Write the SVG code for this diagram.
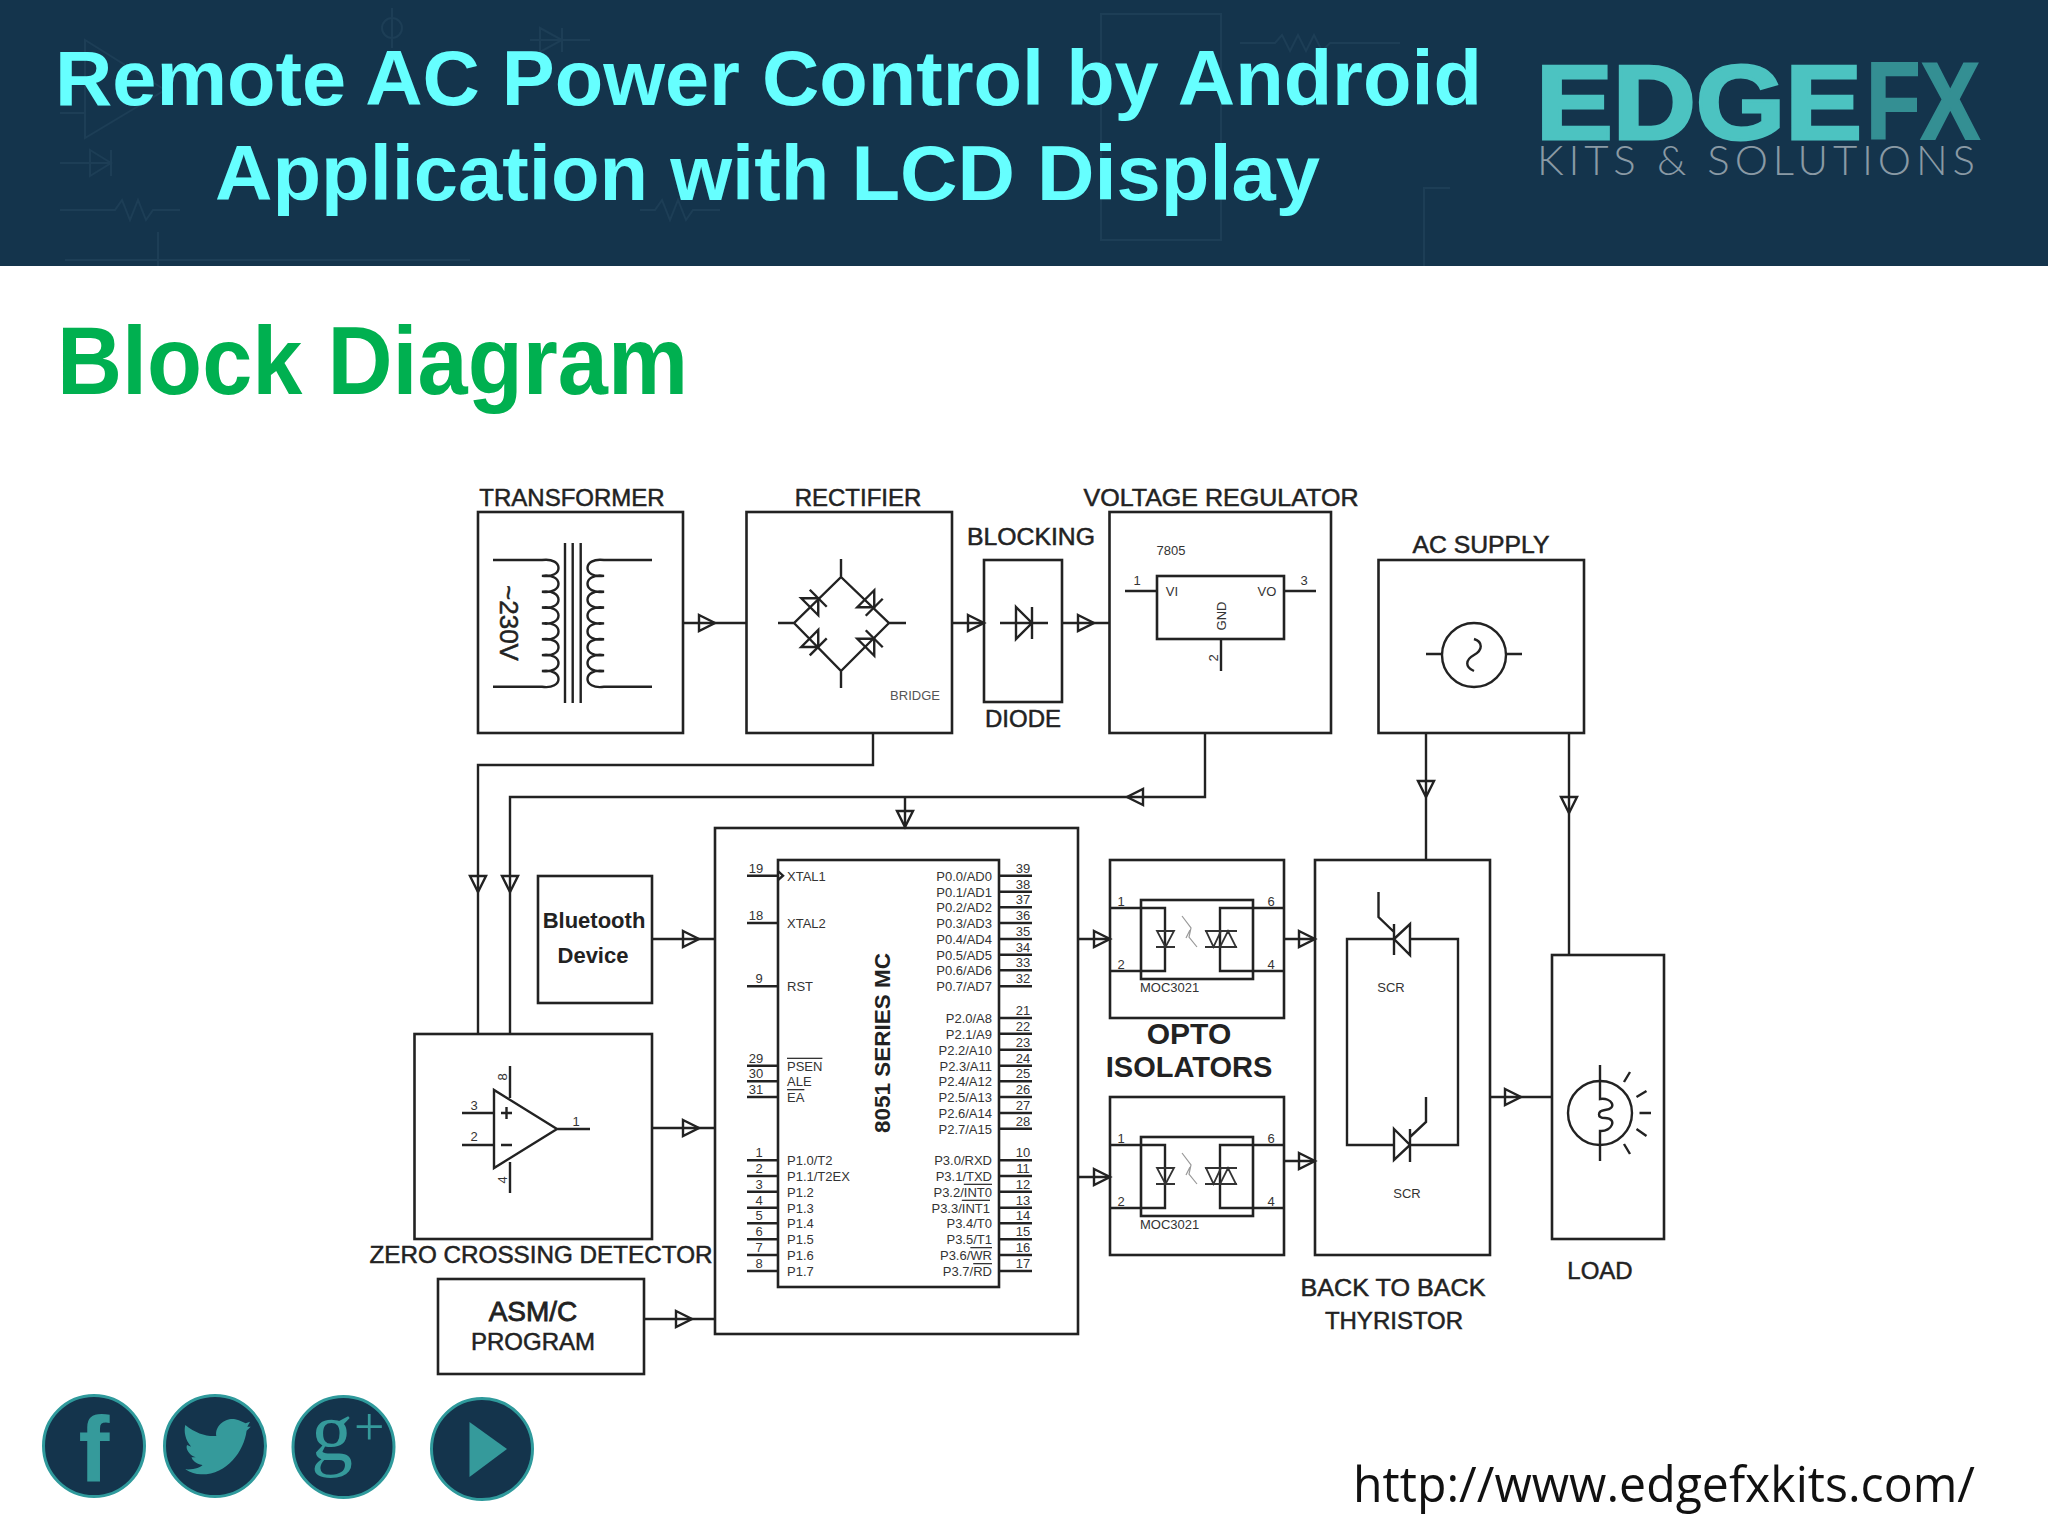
<svg xmlns="http://www.w3.org/2000/svg" width="2048" height="1536" viewBox="0 0 2048 1536">
<style>
text{font-family:"Liberation Sans",Arial,sans-serif;fill:#222}
.box{fill:none;stroke:#222;stroke-width:2.6}
.ln{fill:none;stroke:#222;stroke-width:2.4}
.th{fill:none;stroke:#333;stroke-width:1.8}
.lab{font-size:24px;text-anchor:middle;stroke:#222;stroke-width:.5}
.b{font-weight:bold}
.pin{font-size:13px;fill:#333}
.num{font-size:13px;fill:#333;text-anchor:middle}
.end{text-anchor:end}
.ctr{text-anchor:middle}
.ov{text-decoration:overline}
.bg{fill:none;stroke:#1d3e56;stroke-width:2}
.ttl{font-size:78px;font-weight:bold;fill:#66FFFF;text-anchor:start}
.ico{fill:#14344c;stroke:#2f9a9c;stroke-width:3}
.tl{fill:#359a9b}
</style>
<defs>
<polygon id="ah" points="0,-8 16,0 0,8" fill="none" stroke="#222" stroke-width="2.4"/>
<g id="bd"><polygon points="-6,-12 6,0 -6,12" class="ln"/><path d="M6-12V12" class="ln"/></g>
<g id="moc">
<path class="ln" d="M1110,908H1165V971H1110M1284,908H1220V971H1284"/>
<rect x="1141" y="900" width="112" height="79" class="box"/>
<path class="th" d="M1157,931H1174L1165.500,947ZM1156,947H1175M1205,931H1237M1205,947H1237M1206,931H1221L1213.500,947ZM1220,947H1236L1228,931Z"/>
<path d="M1182,916L1191,928L1189,937L1197,947M1190,930L1186,938" fill="none" stroke="#999" stroke-width="1.2"/>
<text class="num" x="1121" y="906">1</text><text class="num" x="1121" y="969">2</text>
<text class="num" x="1271" y="906">6</text><text class="num" x="1271" y="969">4</text>
<text class="pin" x="1140" y="992">MOC3021</text>
</g>
</defs>

<g id="header">
<rect width="2048" height="266" fill="#14344c"/>
<path class="bg" d="M1101,14H1221V240H1101ZM85,40V138L165,90ZM60,113H85M392,8V48M530,40H590M562,28V52M540,28L562,40L540,52ZM60,163H111M111,150V176M90,150L111,163L90,176ZM60,210H115L122,200L130,220L138,200L146,220L153,210H180M640,210H655L662,200L670,220L678,200L686,220L693,210H720M65,260H470M158,232V266M1424,266V188H1450M1240,43H1275L1282,35L1290,51L1298,35L1306,51L1314,35L1322,51L1330,43H1400"/>
<circle class="bg" cx="392" cy="28" r="10"/>
<text class="ttl" x="55" y="105" textLength="1427" lengthAdjust="spacingAndGlyphs">Remote AC Power Control by Android</text>
<text class="ttl" x="215" y="200" textLength="1105" lengthAdjust="spacingAndGlyphs">Application with LCD Display</text>
</g>
<g id="logo">
<text x="1536" y="139" font-size="106" font-weight="bold" style="fill:#4cc3c1;stroke:#4cc3c1;stroke-width:3" textLength="326" lengthAdjust="spacingAndGlyphs">EDGE</text>
<text x="1866" y="139" font-size="110" font-weight="bold" style="fill:#348f93;stroke:#348f93;stroke-width:2" textLength="114" lengthAdjust="spacingAndGlyphs">FX</text>
<text x="1537" y="175" font-size="42" style="font-family:Lato,sans-serif;font-weight:300;fill:#8a9aa5" textLength="438">KITS &amp; SOLUTIONS</text>
</g>
<text id="heading" x="57" y="394" font-size="96" font-weight="bold" style="fill:#00B050" textLength="631" lengthAdjust="spacingAndGlyphs">Block Diagram</text>

<g id="connectors">
<path class="ln" d="M683,623H746M952,623H984M1062,623H1109M652,939H715M652,1128H715M644,1319H715M1077,939H1110M1077,1177H1110M1284,939H1315M1284,1161H1315M1490,1097H1552"/>
<path class="ln" d="M873,733V765H478V1034M1205,733V797H510V1034M905,797V828M1426,733V860M1569,733V955"/>
<use href="#ah" transform="translate(699,623)"/>
<use href="#ah" transform="translate(968,623)"/>
<use href="#ah" transform="translate(1078,623)"/>
<use href="#ah" transform="translate(683,939)"/>
<use href="#ah" transform="translate(683,1128)"/>
<use href="#ah" transform="translate(676,1319)"/>
<use href="#ah" transform="translate(1094,939)"/>
<use href="#ah" transform="translate(1094,1177)"/>
<use href="#ah" transform="translate(1299,939)"/>
<use href="#ah" transform="translate(1299,1161)"/>
<use href="#ah" transform="translate(1505,1097)"/>
<use href="#ah" transform="translate(1143,797) rotate(180)"/>
<use href="#ah" transform="translate(905,811) rotate(90)"/>
<use href="#ah" transform="translate(478,876) rotate(90)"/>
<use href="#ah" transform="translate(510,876) rotate(90)"/>
<use href="#ah" transform="translate(1426,781) rotate(90)"/>
<use href="#ah" transform="translate(1569,797) rotate(90)"/>
</g>

<g id="transformer">
<rect x="478" y="512" width="205" height="221" class="box"/>
<text class="lab" x="572" y="506">TRANSFORMER</text>
<path class="ln" d="M493,560H542c22,-3 22,19 0,15.850c22,-3 22,19 0,15.850c22,-3 22,19 0,15.850c22,-3 22,19 0,15.850c22,-3 22,19 0,15.850c22,-3 22,19 0,15.850c22,-3 22,19 0,15.850c22,-3 22,19 0,15.850H493"/>
<path class="ln" d="M652,560H604c-22,-3 -22,19 0,15.850c-22,-3 -22,19 0,15.850c-22,-3 -22,19 0,15.850c-22,-3 -22,19 0,15.850c-22,-3 -22,19 0,15.850c-22,-3 -22,19 0,15.850c-22,-3 -22,19 0,15.850c-22,-3 -22,19 0,15.850H652"/>
<path class="ln" d="M565,543V703M572.700,543V703M580.700,543V703"/>
<text transform="translate(500,623) rotate(90)" font-size="26" text-anchor="middle" stroke="#222" stroke-width=".5">~230V</text>
</g>
<g id="rectifier">
<rect x="746.500" y="512" width="205.500" height="221" class="box"/>
<text class="lab" x="858" y="506">RECTIFIER</text>
<path class="ln" d="M778,623H794L841,577V559M841,577L889,623H906M794,623L841,671V688M841,671L889,623"/>
<use href="#bd" transform="translate(814,602.500) rotate(-45)"/>
<use href="#bd" transform="translate(870,603) rotate(45)"/>
<use href="#bd" transform="translate(814,642.700) rotate(45)"/>
<use href="#bd" transform="translate(870,643) rotate(-45)"/>
<text class="pin ctr" x="915" y="700" style="fill:#555">BRIDGE</text>
</g>
<g id="blocking-diode">
<rect x="984" y="560" width="78" height="142" class="box"/>
<text class="lab" x="1031" y="545" textLength="128" lengthAdjust="spacingAndGlyphs">BLOCKING</text>
<text class="lab" x="1023" y="727">DIODE</text>
<path class="ln" d="M1000,623H1048M1016,607L1032,623L1016,639ZM1032,607V639"/>
</g>
<g id="voltage-regulator">
<rect x="1109.500" y="512" width="221.500" height="221" class="box"/>
<text class="lab" x="1221" y="506" textLength="275" lengthAdjust="spacingAndGlyphs">VOLTAGE REGULATOR</text>
<rect x="1157" y="576" width="127" height="63" class="box"/>
<path class="ln" d="M1125,591H1157M1284,591H1316M1221,639V671"/>
<text class="num" x="1171" y="555">7805</text>
<text class="num" x="1137" y="585">1</text><text class="num" x="1304" y="585">3</text>
<text class="num" x="1172" y="596">VI</text><text class="num" x="1267" y="596">VO</text>
<text class="num" transform="translate(1226,616) rotate(-90)">GND</text>
<text class="num" transform="translate(1218,658) rotate(-90)">2</text>
</g>
<g id="ac-supply">
<rect x="1378.500" y="560" width="205.500" height="173" class="box"/>
<text class="lab" x="1481" y="553" textLength="137" lengthAdjust="spacingAndGlyphs">AC SUPPLY</text>
<circle cx="1474" cy="655" r="32" class="ln"/>
<path class="ln" d="M1426,654H1442M1506,654H1522M1474,639c9,3 9,11 0,16c-9,5 -9,12 0,16"/>
</g>
<g id="bluetooth">
<rect x="538" y="876" width="114" height="127" class="box"/>
<text class="ctr b" x="594" y="928" font-size="22">Bluetooth</text>
<text class="ctr b" x="593" y="963" font-size="22">Device</text>
</g>
<g id="zero-crossing-detector">
<rect x="414.500" y="1034" width="237.500" height="205" class="box"/>
<text x="369.500" y="1263" font-size="24" stroke="#222" stroke-width=".5" textLength="343" lengthAdjust="spacingAndGlyphs">ZERO CROSSING DETECTOR</text>
<path class="ln" d="M494,1090V1168L557,1129ZM462,1113H494M462,1145H494M557,1129H590M510,1066V1098M510,1162V1193M501,1113H512M506.500,1107V1119M501,1145H512"/>
<text class="num" x="474" y="1110">3</text><text class="num" x="474" y="1141">2</text><text class="num" x="576" y="1126">1</text>
<text class="num" transform="translate(507,1077) rotate(-90)">8</text>
<text class="num" transform="translate(507,1180) rotate(-90)">4</text>
</g>
<g id="asm-program">
<rect x="438" y="1279" width="206" height="95" class="box"/>
<text class="ctr" x="533" y="1321" font-size="28" stroke="#222" stroke-width=".8">ASM/C</text>
<text class="lab" x="533" y="1350">PROGRAM</text>
</g>
<g id="mcu">
<rect x="715" y="828" width="363" height="506" class="box"/>
<rect x="778" y="860" width="221" height="427" class="box"/>
<path class="ln" d="M747,875.700H778M747,923H778M747,986.300H778M747,1065.700H778M747,1081.300H778M747,1097H778M747,1160.300H778M747,1176H778M747,1191.700H778M747,1207.700H778M747,1223.300H778M747,1239.300H778M747,1255H778M747,1271H778"/>
<path class="ln" d="M999,875.700H1032M999,891.700H1032M999,907.300H1032M999,923H1032M999,939H1032M999,954.700H1032M999,970.300H1032M999,986.300H1032M999,1018H1032M999,1033.700H1032M999,1049.700H1032M999,1065.700H1032M999,1081.300H1032M999,1097H1032M999,1113H1032M999,1128.700H1032M999,1160.300H1032M999,1176H1032M999,1191.700H1032M999,1207.700H1032M999,1223.300H1032M999,1239.300H1032M999,1255H1032M999,1271H1032"/>
<path class="ln" d="M778,871L783,875.700L778,880"/>
<text transform="translate(890,1043) rotate(-90)" font-size="22.500" font-weight="bold" text-anchor="middle">8051 SERIES MC</text>
<g class="pin">
<text class="pin" x="787" y="880.700">XTAL1</text>
<text class="pin" x="787" y="928">XTAL2</text>
<text class="pin" x="787" y="991.300">RST</text>
<text class="pin ov" x="787" y="1070.700">PSEN</text>
<text class="pin" x="787" y="1086.300">ALE</text>
<text class="pin ov" x="787" y="1102">EA</text>
<text class="pin" x="787" y="1165.300">P1.0/T2</text>
<text class="pin" x="787" y="1181">P1.1/T2EX</text>
<text class="pin" x="787" y="1196.700">P1.2</text>
<text class="pin" x="787" y="1212.700">P1.3</text>
<text class="pin" x="787" y="1228.300">P1.4</text>
<text class="pin" x="787" y="1244.300">P1.5</text>
<text class="pin" x="787" y="1260">P1.6</text>
<text class="pin" x="787" y="1276">P1.7</text>
<text class="pin end" x="992" y="880.700">P0.0/AD0</text>
<text class="pin end" x="992" y="896.700">P0.1/AD1</text>
<text class="pin end" x="992" y="912.300">P0.2/AD2</text>
<text class="pin end" x="992" y="928">P0.3/AD3</text>
<text class="pin end" x="992" y="944">P0.4/AD4</text>
<text class="pin end" x="992" y="959.700">P0.5/AD5</text>
<text class="pin end" x="992" y="975.300">P0.6/AD6</text>
<text class="pin end" x="992" y="991.300">P0.7/AD7</text>
<text class="pin end" x="992" y="1023">P2.0/A8</text>
<text class="pin end" x="992" y="1038.700">P2.1/A9</text>
<text class="pin end" x="992" y="1054.700">P2.2/A10</text>
<text class="pin end" x="992" y="1070.700">P2.3/A11</text>
<text class="pin end" x="992" y="1086.300">P2.4/A12</text>
<text class="pin end" x="992" y="1102">P2.5/A13</text>
<text class="pin end" x="992" y="1118">P2.6/A14</text>
<text class="pin end" x="992" y="1133.700">P2.7/A15</text>
<text class="pin end" x="992" y="1165.300">P3.0/RXD</text>
<text class="pin end" x="992" y="1181">P3.1/TXD</text>
<text class="pin end" x="992" y="1196.700">P3.2/<tspan class="ov">INT0</tspan></text>
<text class="pin end" x="990" y="1212.700">P3.3/<tspan class="ov">INT1</tspan></text>
<text class="pin end" x="992" y="1228.300">P3.4/T0</text>
<text class="pin end" x="992" y="1244.300">P3.5/T1</text>
<text class="pin end" x="992" y="1260">P3.6/<tspan class="ov">WR</tspan></text>
<text class="pin end" x="992" y="1276">P3.7/<tspan class="ov">RD</tspan></text>
<text class="num" x="756" y="873">19</text>
<text class="num" x="756" y="920">18</text>
<text class="num" x="759" y="983">9</text>
<text class="num" x="756" y="1063">29</text>
<text class="num" x="756" y="1078">30</text>
<text class="num" x="756" y="1094">31</text>
<text class="num" x="759" y="1157">1</text>
<text class="num" x="759" y="1173">2</text>
<text class="num" x="759" y="1189">3</text>
<text class="num" x="759" y="1205">4</text>
<text class="num" x="759" y="1220">5</text>
<text class="num" x="759" y="1236">6</text>
<text class="num" x="759" y="1252">7</text>
<text class="num" x="759" y="1268">8</text>
<text class="num" x="1023" y="873">39</text>
<text class="num" x="1023" y="889">38</text>
<text class="num" x="1023" y="904">37</text>
<text class="num" x="1023" y="920">36</text>
<text class="num" x="1023" y="936">35</text>
<text class="num" x="1023" y="952">34</text>
<text class="num" x="1023" y="967">33</text>
<text class="num" x="1023" y="983">32</text>
<text class="num" x="1023" y="1015">21</text>
<text class="num" x="1023" y="1031">22</text>
<text class="num" x="1023" y="1047">23</text>
<text class="num" x="1023" y="1063">24</text>
<text class="num" x="1023" y="1078">25</text>
<text class="num" x="1023" y="1094">26</text>
<text class="num" x="1023" y="1110">27</text>
<text class="num" x="1023" y="1126">28</text>
<text class="num" x="1023" y="1157">10</text>
<text class="num" x="1023" y="1173">11</text>
<text class="num" x="1023" y="1189">12</text>
<text class="num" x="1023" y="1205">13</text>
<text class="num" x="1023" y="1220">14</text>
<text class="num" x="1023" y="1236">15</text>
<text class="num" x="1023" y="1252">16</text>
<text class="num" x="1023" y="1268">17</text>
</g>
</g>
<g id="opto-1">
<rect x="1110" y="860" width="174" height="158" class="box"/>
<use href="#moc"/>
</g>
<text id="opto-label" class="ctr b" x="1189" y="1044" font-size="30">OPTO</text>
<text class="ctr b" x="1189" y="1077" font-size="29">ISOLATORS</text>
<g id="opto-2">
<rect x="1110" y="1097" width="174" height="158" class="box"/>
<use href="#moc" transform="translate(0,237)"/>
</g>
<g id="thyristor">
<rect x="1315" y="860" width="175" height="395" class="box"/>
<path class="ln" d="M1394,939H1347V1145H1394M1410,939H1458V1145H1410M1394,939L1410,924V955ZM1394,924V955M1378.500,892V917L1394,932M1394,1129L1410,1145L1394,1160ZM1410,1129V1162M1410,1137L1426,1122V1097"/>
<text class="num" x="1391" y="992">SCR</text>
<text class="num" x="1407" y="1198">SCR</text>
<text class="lab" x="1393" y="1296" textLength="185" lengthAdjust="spacingAndGlyphs">BACK TO BACK</text>
<text class="lab" x="1394" y="1329">THYRISTOR</text>
</g>
<g id="load">
<rect x="1552" y="955" width="112" height="284" class="box"/>
<circle cx="1600" cy="1113" r="32" class="ln"/>
<path class="ln" d="M1600,1065V1099C1612,1097 1618,1109 1605,1110C1597,1111 1597,1118 1605,1118C1618,1118 1612,1132 1600,1131V1161M1624,1082L1630,1072M1636.500,1097L1646.500,1091M1639.500,1113H1651M1636.500,1129L1646.500,1136M1624,1144L1630,1154"/>
<text class="lab" x="1600" y="1279">LOAD</text>
</g>
<g id="social">
<circle class="ico" cx="94" cy="1446" r="50.500"/>
<text class="ctr" x="94" y="1481" font-size="93" font-weight="bold" style="fill:#359a9b">f</text>
<circle class="ico" cx="215" cy="1446" r="50.500"/>
<path class="tl" transform="translate(20,1380) scale(.3444,.3333)" d="M480,135C510,160 540,170 570,168C565,135 600,112 625,118C640,122 650,128 655,130L668,125L660,140L670,140L658,152C650,215 600,285 525,283C510,283 495,278 480,268C505,270 525,262 530,255C510,252 500,240 498,232L510,232C490,225 480,205 485,195L497,200C480,180 475,155 480,135Z"/>
<circle class="ico" cx="343.500" cy="1447" r="50.500"/>
<text x="311" y="1460" font-size="84" style="font-family:'Liberation Serif',serif;fill:#359a9b">g<tspan font-size="54" dy="-15" dx="1">+</tspan></text>
<circle class="ico" cx="482" cy="1449" r="50.500"/>
<polygon class="tl" points="469.500,1422 507,1449 469.500,1477"/>
</g>
<text id="url" x="1353" y="1502" font-size="50" style="font-family:'Open Sans',sans-serif;fill:#111" textLength="622" lengthAdjust="spacingAndGlyphs">http://www.edgefxkits.com/</text>
</svg>
